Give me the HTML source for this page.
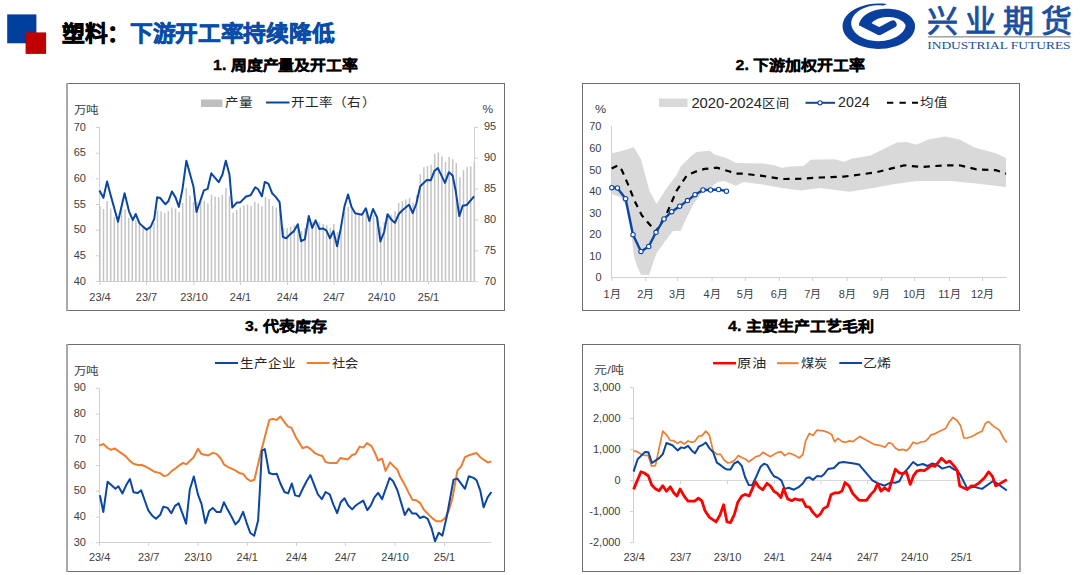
<!DOCTYPE html><html lang="zh-CN"><head><meta charset="utf-8"><title>塑料</title><style>html,body{margin:0;padding:0;background:#fff;width:1080px;height:575px;overflow:hidden}svg{display:block}text{font-family:"Liberation Sans",sans-serif}</style></head><body>
<svg width="1080" height="575" viewBox="0 0 1080 575">
<rect x="7.2" y="14.4" width="29.2" height="28.9" fill="#003F9C"/>
<rect x="25.6" y="32.4" width="20.5" height="21.5" fill="#C00000"/>
<text id="mt" x="61.80" y="40.60" font-size="22" font-weight="bold" fill="#000" text-anchor="start" textLength="272.50" lengthAdjust="spacingAndGlyphs" stroke="#000" stroke-width="0.6">塑料：<tspan fill="#0A4DA8" stroke="#0A4DA8">下游开工率持续降低</tspan></text>
<polygon points="887.0,4.1 882.5,3.6 878.1,3.5 873.6,3.7 869.2,4.3 865.0,5.2 861.0,6.4 857.2,8.0 853.8,9.8 850.7,11.8 848.1,14.1 845.9,16.5 844.3,19.1 843.2,21.9 842.6,24.6 842.6,27.4 843.1,30.2 844.1,32.9 845.7,35.6 847.8,38.0 850.4,40.3 853.4,42.4 856.8,44.2 860.5,45.8 864.5,47.1 868.7,48.0 873.1,48.6 877.5,48.9 882.0,48.8 886.5,48.4 890.8,47.6 894.9,46.5 898.8,45.2 902.4,43.5 905.6,41.5 908.4,39.3 910.8,37.0 912.6,34.4 914.0,31.7 914.8,29.0 915.1,26.2 906.0,23.2 905.8,25.4 905.2,27.6 904.2,29.7 902.8,31.7 901.0,33.5 899.0,35.2 896.6,36.8 893.9,38.1 891.0,39.2 888.0,40.1 884.8,40.7 881.5,41.1 878.1,41.2 874.8,41.0 871.5,40.6 868.3,39.9 865.3,38.9 862.5,37.8 859.9,36.4 857.6,34.8 855.6,33.0 854.0,31.1 852.7,29.1 851.8,26.9 851.3,24.8 851.2,22.6 851.5,20.4 852.3,18.2 853.4,16.2 854.9,14.2 856.7,12.4 858.9,10.7 861.4,9.2 864.1,7.9 867.0,6.9 870.1,6.1 873.4,5.5 876.7,5.2 880.0,5.2 883.4,5.5" fill="#0A3F9E"/>
<polygon points="859.0,26.0 859.1,24.6 859.3,23.3 859.8,22.0 860.4,20.7 861.1,19.4 862.1,18.1 863.1,17.0 864.3,15.8 865.7,14.8 867.2,13.8 868.8,12.8 870.5,12.0 872.4,11.2 874.3,10.6 876.3,10.0 878.3,9.5 880.5,9.2 882.6,8.9 884.8,8.8 887.0,8.7 889.2,8.8 891.4,8.9 893.5,9.2 895.7,9.5 897.7,10.0 899.7,10.6 901.6,11.2 903.5,12.0 905.2,12.8 906.8,13.8 908.3,14.8 909.7,15.8 910.9,17.0 911.9,18.1 912.9,19.4 913.6,20.7 914.2,22.0 914.7,23.3 914.9,24.6 915.0,26.0 906.0,27.5 906.0,26.8 905.8,26.0 905.6,25.3 905.3,24.6 904.9,23.9 904.4,23.2 903.9,22.6 903.3,21.9 902.6,21.3 901.8,20.8 900.9,20.2 900.0,19.7 899.1,19.2 898.1,18.8 897.0,18.4 895.9,18.1 894.7,17.8 893.6,17.5 892.4,17.3 891.1,17.2 889.9,17.1 888.6,17.0 887.4,17.0 886.1,17.1 884.9,17.2 883.6,17.3 882.4,17.5 881.3,17.8 880.1,18.1 879.0,18.4 877.9,18.8 876.9,19.2 876.0,19.7 875.1,20.2 874.2,20.8 873.4,21.3 872.7,21.9 872.1,22.6 871.6,23.2 871.1,23.9 863.5,24.5" fill="#0A3F9E"/>
<polyline points="863.5,23.3 879.3,31.3 892.8,24.2" fill="none" stroke="#0A3F9E" stroke-width="7.6" stroke-linejoin="round" stroke-linecap="round"/>
<text id="lg1" x="927.40" y="31.75" font-size="31" font-weight="normal" fill="#1A4FA0" text-anchor="start" textLength="144.63" lengthAdjust="spacing" style="font-family:'Liberation Serif',serif" stroke="#1A4FA0" stroke-width="0.9">兴业期货</text>
<rect x="928" y="36" width="143" height="1.6" fill="#A6A6A6"/>
<text id="lg2" x="927.20" y="48.80" font-size="11" font-weight="normal" fill="#1A4FA0" text-anchor="start" textLength="143.43" lengthAdjust="spacingAndGlyphs" style="font-family:'Liberation Serif',serif">INDUSTRIAL FUTURES</text>
<text id="t1" x="213.10" y="70.25" font-size="14" font-weight="bold" fill="#000" text-anchor="start" textLength="144.86" lengthAdjust="spacingAndGlyphs" stroke="#000" stroke-width="0.35">1. 周度产量及开工率</text>
<text id="t2" x="735.60" y="70.25" font-size="14" font-weight="bold" fill="#000" text-anchor="start" textLength="129.52" lengthAdjust="spacingAndGlyphs" stroke="#000" stroke-width="0.35">2. 下游加权开工率</text>
<text id="t3" x="245.00" y="331.00" font-size="14" font-weight="bold" fill="#000" text-anchor="start" textLength="81.52" lengthAdjust="spacingAndGlyphs" stroke="#000" stroke-width="0.35">3. 代表库存</text>
<text id="t4" x="728.00" y="330.95" font-size="14" font-weight="bold" fill="#000" text-anchor="start" textLength="146.08" lengthAdjust="spacingAndGlyphs" stroke="#000" stroke-width="0.35">4. 主要生产工艺毛利</text>
<rect x="66" y="83" width="439" height="1" fill="#6E6E6E"/>
<rect x="66" y="310" width="439" height="1" fill="#6E6E6E"/>
<rect x="66" y="83" width="2" height="228" fill="#A8A8A8"/>
<rect x="504" y="83" width="1" height="228" fill="#6E6E6E"/>
<rect x="582" y="83" width="438" height="1" fill="#6E6E6E"/>
<rect x="582" y="310" width="438" height="1" fill="#6E6E6E"/>
<rect x="582" y="83" width="1" height="228" fill="#6E6E6E"/>
<rect x="1019" y="83" width="1" height="228" fill="#6E6E6E"/>
<rect x="66" y="344" width="439" height="1" fill="#6E6E6E"/>
<rect x="66" y="571" width="439" height="1" fill="#6E6E6E"/>
<rect x="66" y="344" width="2" height="228" fill="#A8A8A8"/>
<rect x="504" y="344" width="1" height="228" fill="#6E6E6E"/>
<rect x="582" y="344" width="439" height="1" fill="#6E6E6E"/>
<rect x="582" y="571" width="439" height="1" fill="#6E6E6E"/>
<rect x="582" y="344" width="1" height="228" fill="#6E6E6E"/>
<rect x="1019" y="344" width="2" height="228" fill="#A8A8A8"/>
<text x="86" y="130.5" font-size="11" fill="#404040" text-anchor="end">70</text>
<line x1="96" y1="127.5" x2="99.5" y2="127.5" stroke="#D0D0D0" stroke-width="1"/>
<text x="86" y="156.16666666666666" font-size="11" fill="#404040" text-anchor="end">65</text>
<line x1="96" y1="153.2" x2="99.5" y2="153.2" stroke="#D0D0D0" stroke-width="1"/>
<text x="86" y="181.83333333333334" font-size="11" fill="#404040" text-anchor="end">60</text>
<line x1="96" y1="178.8" x2="99.5" y2="178.8" stroke="#D0D0D0" stroke-width="1"/>
<text x="86" y="207.5" font-size="11" fill="#404040" text-anchor="end">55</text>
<line x1="96" y1="204.5" x2="99.5" y2="204.5" stroke="#D0D0D0" stroke-width="1"/>
<text x="86" y="233.16666666666669" font-size="11" fill="#404040" text-anchor="end">50</text>
<line x1="96" y1="230.2" x2="99.5" y2="230.2" stroke="#D0D0D0" stroke-width="1"/>
<text x="86" y="258.83333333333337" font-size="11" fill="#404040" text-anchor="end">45</text>
<line x1="96" y1="255.8" x2="99.5" y2="255.8" stroke="#D0D0D0" stroke-width="1"/>
<text x="86" y="284.5" font-size="11" fill="#404040" text-anchor="end">40</text>
<line x1="96" y1="281.5" x2="99.5" y2="281.5" stroke="#D0D0D0" stroke-width="1"/>
<text x="484" y="130.3" font-size="11" fill="#404040" text-anchor="start">95</text>
<line x1="474.5" y1="127.3" x2="478" y2="127.3" stroke="#D0D0D0" stroke-width="1"/>
<text x="484" y="161.18" font-size="11" fill="#404040" text-anchor="start">90</text>
<line x1="474.5" y1="158.2" x2="478" y2="158.2" stroke="#D0D0D0" stroke-width="1"/>
<text x="484" y="192.06" font-size="11" fill="#404040" text-anchor="start">85</text>
<line x1="474.5" y1="189.1" x2="478" y2="189.1" stroke="#D0D0D0" stroke-width="1"/>
<text x="484" y="222.94" font-size="11" fill="#404040" text-anchor="start">80</text>
<line x1="474.5" y1="219.9" x2="478" y2="219.9" stroke="#D0D0D0" stroke-width="1"/>
<text x="484" y="253.82" font-size="11" fill="#404040" text-anchor="start">75</text>
<line x1="474.5" y1="250.8" x2="478" y2="250.8" stroke="#D0D0D0" stroke-width="1"/>
<text x="484" y="284.7" font-size="11" fill="#404040" text-anchor="start">70</text>
<line x1="474.5" y1="281.7" x2="478" y2="281.7" stroke="#D0D0D0" stroke-width="1"/>
<line x1="99.5" y1="127" x2="99.5" y2="282" stroke="#D0D0D0" stroke-width="1"/>
<line x1="474.5" y1="127" x2="474.5" y2="282" stroke="#D0D0D0" stroke-width="1"/>
<line x1="99.5" y1="281.5" x2="474.5" y2="281.5" stroke="#D0D0D0" stroke-width="1"/>
<line x1="100" y1="281.5" x2="100" y2="285" stroke="#D0D0D0" stroke-width="1"/>
<text x="100" y="300.5" font-size="11" fill="#404040" text-anchor="middle">23/4</text>
<line x1="146.5" y1="281.5" x2="146.5" y2="285" stroke="#D0D0D0" stroke-width="1"/>
<text x="146.5" y="300.5" font-size="11" fill="#404040" text-anchor="middle">23/7</text>
<line x1="194" y1="281.5" x2="194" y2="285" stroke="#D0D0D0" stroke-width="1"/>
<text x="194" y="300.5" font-size="11" fill="#404040" text-anchor="middle">23/10</text>
<line x1="240.5" y1="281.5" x2="240.5" y2="285" stroke="#D0D0D0" stroke-width="1"/>
<text x="240.5" y="300.5" font-size="11" fill="#404040" text-anchor="middle">24/1</text>
<line x1="287.5" y1="281.5" x2="287.5" y2="285" stroke="#D0D0D0" stroke-width="1"/>
<text x="287.5" y="300.5" font-size="11" fill="#404040" text-anchor="middle">24/4</text>
<line x1="334" y1="281.5" x2="334" y2="285" stroke="#D0D0D0" stroke-width="1"/>
<text x="334" y="300.5" font-size="11" fill="#404040" text-anchor="middle">24/7</text>
<line x1="381.5" y1="281.5" x2="381.5" y2="285" stroke="#D0D0D0" stroke-width="1"/>
<text x="381.5" y="300.5" font-size="11" fill="#404040" text-anchor="middle">24/10</text>
<line x1="428.5" y1="281.5" x2="428.5" y2="285" stroke="#D0D0D0" stroke-width="1"/>
<text x="428.5" y="300.5" font-size="11" fill="#404040" text-anchor="middle">25/1</text>
<path d="M99.90 206.0V281M103.50 209.0V281M107.10 201.0V281M110.70 208.6V281M114.30 217.0V281M117.90 215.7V281M121.50 209.5V281M125.10 209.0V281M128.70 218.0V281M132.30 221.0V281M135.90 220.2V281M139.50 223.9V281M143.10 226.0V281M146.70 228.3V281M150.30 227.6V281M153.90 223.0V281M157.50 210.6V281M161.10 211.6V281M164.70 213.0V281M168.30 211.0V281M171.90 207.6V281M175.50 208.6V281M179.10 212.0V281M182.70 203.0V281M186.30 188.0V281M189.90 195.5V281M193.50 202.2V281M197.10 201.7V281M200.70 201.0V281M204.30 200.8V281M207.90 203.5V281M211.50 194.8V281M215.10 196.4V281M218.70 197.0V281M222.30 194.8V281M225.90 187.9V281M229.50 196.3V281M233.10 212.8V281M236.70 209.8V281M240.30 207.6V281M243.90 205.4V281M247.50 204.6V281M251.10 205.9V281M254.70 201.8V281M258.30 203.3V281M261.90 206.2V281M265.50 197.0V281M269.10 199.0V281M272.70 205.9V281M276.30 207.4V281M279.90 205.0V281M283.50 228.1V281M287.10 228.1V281M290.70 226.4V281M294.30 225.2V281M297.90 223.0V281M301.50 231.1V281M305.10 228.0V281M308.70 219.0V281M312.30 222.0V281M315.90 220.7V281M319.50 222.2V281M323.10 224.0V281M326.70 225.2V281M330.30 228.1V281M333.90 224.0V281M337.50 231.9V281M341.10 226.0V281M344.70 212.0V281M348.30 206.7V281M351.90 209.6V281M355.50 214.0V281M359.10 214.0V281M362.70 214.8V281M366.30 211.9V281M369.90 217.8V281M373.50 214.8V281M377.10 219.3V281M380.70 226.7V281M384.30 221.9V281M387.90 214.8V281M391.50 214.8V281M395.10 211.1V281M398.70 203.0V281M402.30 201.2V281M405.90 199.6V281M409.50 197.7V281M413.10 202.8V281M416.70 195.0V281M420.30 174.3V281M423.90 167.3V281M427.50 165.9V281M431.10 164.4V281M434.70 154.0V281M438.30 152.6V281M441.90 156.6V281M445.50 161.9V281M449.10 157.0V281M452.70 159.2V281M456.30 162.9V281M459.90 177.2V281M463.50 170.3V281M467.10 166.9V281M470.70 166.3V281M474.30 161.9V281" stroke="#C4C4C4" stroke-width="1.5" fill="none"/>
<polyline points="99.4,190.4 103.4,197.8 107.1,181.5 110.6,195.0 118.0,221.7 124.6,193.3 129.0,211.3 132.8,220.2 135.7,214.0 139.4,223.1 142.4,226.1 146.6,229.8 150.6,226.9 154.3,218.7 157.2,197.2 160.2,198.0 165.4,204.3 168.3,201.3 172.0,191.4 175.7,197.8 178.9,206.9 182.4,189.6 186.4,160.7 189.8,173.3 193.5,186.7 196.5,212.0 203.9,190.4 207.6,188.9 211.3,173.3 218.7,182.2 222.4,174.8 225.8,160.7 229.5,174.8 232.3,207.6 237.0,202.4 240.2,202.4 246.1,196.5 250.6,195.2 255.2,187.3 258.1,189.3 261.9,196.2 264.8,181.9 268.5,183.8 272.2,193.3 275.9,197.1 279.6,202.1 282.9,237.0 286.3,238.2 290.0,234.4 293.7,231.4 297.7,224.4 301.1,241.2 304.8,239.3 308.8,216.0 312.2,228.1 315.6,220.4 319.3,228.9 322.9,228.4 326.3,230.4 330.0,238.2 333.4,231.1 337.1,246.2 340.7,228.9 344.5,206.2 348.1,194.4 351.5,207.0 355.2,213.3 361.9,214.8 365.9,208.3 369.3,221.0 373.0,209.0 377.1,217.5 380.4,241.5 384.1,232.0 387.5,214.2 391.5,219.8 394.9,222.8 398.8,214.0 402.4,210.2 409.0,204.7 412.7,213.1 416.4,203.5 420.1,186.5 426.8,179.9 430.9,180.2 434.2,171.3 437.9,168.1 445.0,182.9 448.9,172.2 452.6,175.5 455.6,190.2 459.3,216.1 462.7,205.8 466.7,205.0 474.1,196.4" fill="none" stroke="#0B46A3" stroke-width="2" stroke-linejoin="round"/>
<text id="u1" x="73.50" y="114.00" font-size="11" font-weight="normal" fill="#404040" text-anchor="start" textLength="25.11" lengthAdjust="spacingAndGlyphs">万吨</text>
<text id="u1r" x="482.60" y="113.40" font-size="11.5" font-weight="normal" fill="#404040" text-anchor="start" textLength="10.59" lengthAdjust="spacingAndGlyphs">%</text>
<rect x="201" y="99.5" width="21.5" height="7.5" fill="#BFBFBF"/>
<text id="l1a" x="225.00" y="107.00" font-size="12.5" font-weight="normal" fill="#262626" text-anchor="start" textLength="28.08" lengthAdjust="spacingAndGlyphs">产量</text>
<line x1="266" y1="102.5" x2="289.5" y2="102.5" stroke="#0B46A3" stroke-width="2"/>
<text id="l1b" x="290.90" y="107.00" font-size="12.5" font-weight="normal" fill="#262626" text-anchor="start" textLength="84.80" lengthAdjust="spacingAndGlyphs">开工率（右）</text>
<text x="601.5" y="281.40000000000003" font-size="11" fill="#404040" text-anchor="end">0</text>
<text x="601.5" y="259.83000000000004" font-size="11" fill="#404040" text-anchor="end">10</text>
<text x="601.5" y="238.26000000000005" font-size="11" fill="#404040" text-anchor="end">20</text>
<text x="601.5" y="216.69000000000003" font-size="11" fill="#404040" text-anchor="end">30</text>
<text x="601.5" y="195.12000000000003" font-size="11" fill="#404040" text-anchor="end">40</text>
<text x="601.5" y="173.55000000000004" font-size="11" fill="#404040" text-anchor="end">50</text>
<text x="601.5" y="151.98000000000002" font-size="11" fill="#404040" text-anchor="end">60</text>
<text x="601.5" y="130.41000000000003" font-size="11" fill="#404040" text-anchor="end">70</text>
<line x1="611.5" y1="126" x2="611.5" y2="277.5" stroke="#D0D0D0" stroke-width="1"/>
<line x1="611.5" y1="277.5" x2="1006.5" y2="277.5" stroke="#D0D0D0" stroke-width="1"/>
<line x1="612" y1="277.5" x2="612" y2="281" stroke="#D0D0D0" stroke-width="1"/>
<text x="612" y="298" font-size="11" fill="#404040" text-anchor="middle">1月</text>
<line x1="645.8" y1="277.5" x2="645.8" y2="281" stroke="#D0D0D0" stroke-width="1"/>
<text x="645.8" y="298" font-size="11" fill="#404040" text-anchor="middle">2月</text>
<line x1="677.6" y1="277.5" x2="677.6" y2="281" stroke="#D0D0D0" stroke-width="1"/>
<text x="677.6" y="298" font-size="11" fill="#404040" text-anchor="middle">3月</text>
<line x1="712" y1="277.5" x2="712" y2="281" stroke="#D0D0D0" stroke-width="1"/>
<text x="712" y="298" font-size="11" fill="#404040" text-anchor="middle">4月</text>
<line x1="745.3" y1="277.5" x2="745.3" y2="281" stroke="#D0D0D0" stroke-width="1"/>
<text x="745.3" y="298" font-size="11" fill="#404040" text-anchor="middle">5月</text>
<line x1="779.4" y1="277.5" x2="779.4" y2="281" stroke="#D0D0D0" stroke-width="1"/>
<text x="779.4" y="298" font-size="11" fill="#404040" text-anchor="middle">6月</text>
<line x1="812.7" y1="277.5" x2="812.7" y2="281" stroke="#D0D0D0" stroke-width="1"/>
<text x="812.7" y="298" font-size="11" fill="#404040" text-anchor="middle">7月</text>
<line x1="847.2" y1="277.5" x2="847.2" y2="281" stroke="#D0D0D0" stroke-width="1"/>
<text x="847.2" y="298" font-size="11" fill="#404040" text-anchor="middle">8月</text>
<line x1="881.4" y1="277.5" x2="881.4" y2="281" stroke="#D0D0D0" stroke-width="1"/>
<text x="881.4" y="298" font-size="11" fill="#404040" text-anchor="middle">9月</text>
<line x1="914.6" y1="277.5" x2="914.6" y2="281" stroke="#D0D0D0" stroke-width="1"/>
<text x="914.6" y="298" font-size="11" fill="#404040" text-anchor="middle">10月</text>
<line x1="949.5" y1="277.5" x2="949.5" y2="281" stroke="#D0D0D0" stroke-width="1"/>
<text x="949.5" y="298" font-size="11" fill="#404040" text-anchor="middle">11月</text>
<line x1="982.5" y1="277.5" x2="982.5" y2="281" stroke="#D0D0D0" stroke-width="1"/>
<text x="982.5" y="298" font-size="11" fill="#404040" text-anchor="middle">12月</text>
<polygon points="611.6,153.2 618.0,152.0 633.8,147.2 641.0,159.3 649.4,190.5 656.5,203.9 666.0,189.0 676.5,175.2 680.7,166.5 690.4,156.8 696.4,152.0 709.6,150.8 714.4,154.4 726.5,158.0 736.0,162.9 762.6,163.6 774.6,165.3 781.8,167.7 791.5,166.5 803.5,166.0 810.7,159.7 834.4,159.3 844.0,161.7 851.3,158.8 870.5,155.6 882.6,149.6 897.0,142.4 906.7,141.9 916.3,144.8 928.3,139.5 945.2,136.4 959.6,139.5 974.0,147.2 995.7,153.2 1006.0,158.0 1006.0,187.0 974.0,183.3 950.0,181.0 916.3,181.0 892.0,184.5 873.0,188.0 849.0,191.8 820.0,188.0 801.0,190.5 781.8,188.0 762.6,184.5 743.3,182.0 736.0,185.7 724.0,181.0 718.0,182.0 700.9,194.3 694.0,203.0 687.0,217.0 680.6,230.9 673.0,230.9 665.5,240.8 656.6,253.0 649.0,275.0 641.0,274.8 637.0,266.0 634.0,256.0 631.0,232.0 625.5,205.0 620.0,197.0 611.6,194.0" fill="#D9D9D9"/>
<polyline points="611.6,168.4 618.0,165.3 621.8,170.0 627.8,183.9 634.8,201.3 641.7,215.2 652.2,227.4 655.7,231.7 666.0,215.2 676.5,190.9 687.0,175.2 697.4,170.9 704.8,168.9 716.8,167.7 728.9,171.3 736.0,173.7 743.3,173.7 762.6,175.9 781.8,179.0 801.0,178.7 820.0,177.5 844.0,176.6 875.4,172.5 904.3,165.3 921.0,167.0 945.2,165.3 959.6,165.3 976.5,169.4 995.7,170.1 1006.0,173.7" fill="none" stroke="#000" stroke-width="2.2" stroke-dasharray="6.3,5.5"/>
<polyline points="611.8,187.7 617.4,187.9 625.6,198.7 633.0,234.7 641.0,251.4 648.7,246.5 656.0,232.3 664.0,219.0 671.7,211.7 679.7,206.2 687.5,200.6 695.0,194.7 703.0,190.0 710.6,190.0 718.6,189.5 726.4,191.2" fill="none" stroke="#0B46A3" stroke-width="2.4" stroke-linejoin="round"/>
<circle cx="611.8" cy="187.7" r="2.2" fill="#fff" stroke="#0B46A3" stroke-width="1.1"/>
<circle cx="617.4" cy="187.9" r="2.2" fill="#fff" stroke="#0B46A3" stroke-width="1.1"/>
<circle cx="625.6" cy="198.7" r="2.2" fill="#fff" stroke="#0B46A3" stroke-width="1.1"/>
<circle cx="633" cy="234.7" r="2.2" fill="#fff" stroke="#0B46A3" stroke-width="1.1"/>
<circle cx="641" cy="251.4" r="2.2" fill="#fff" stroke="#0B46A3" stroke-width="1.1"/>
<circle cx="648.7" cy="246.5" r="2.2" fill="#fff" stroke="#0B46A3" stroke-width="1.1"/>
<circle cx="656" cy="232.3" r="2.2" fill="#fff" stroke="#0B46A3" stroke-width="1.1"/>
<circle cx="664" cy="219" r="2.2" fill="#fff" stroke="#0B46A3" stroke-width="1.1"/>
<circle cx="671.7" cy="211.7" r="2.2" fill="#fff" stroke="#0B46A3" stroke-width="1.1"/>
<circle cx="679.7" cy="206.2" r="2.2" fill="#fff" stroke="#0B46A3" stroke-width="1.1"/>
<circle cx="687.5" cy="200.6" r="2.2" fill="#fff" stroke="#0B46A3" stroke-width="1.1"/>
<circle cx="695" cy="194.7" r="2.2" fill="#fff" stroke="#0B46A3" stroke-width="1.1"/>
<circle cx="703" cy="190" r="2.2" fill="#fff" stroke="#0B46A3" stroke-width="1.1"/>
<circle cx="710.6" cy="190" r="2.2" fill="#fff" stroke="#0B46A3" stroke-width="1.1"/>
<circle cx="718.6" cy="189.5" r="2.2" fill="#fff" stroke="#0B46A3" stroke-width="1.1"/>
<circle cx="726.4" cy="191.2" r="2.2" fill="#fff" stroke="#0B46A3" stroke-width="1.1"/>
<text id="u2" x="595.00" y="113.00" font-size="11.5" font-weight="normal" fill="#404040" text-anchor="start" textLength="11.15" lengthAdjust="spacingAndGlyphs">%</text>
<rect x="659" y="98.5" width="28.5" height="8.5" fill="#D9D9D9"/>
<text id="l2a" x="691.40" y="107.50" font-size="14" font-weight="normal" fill="#262626" text-anchor="start" textLength="98.03" lengthAdjust="spacingAndGlyphs">2020-2024<tspan font-size="12.5">区间</tspan></text>
<line x1="805.5" y1="102.8" x2="835" y2="102.8" stroke="#0B46A3" stroke-width="2"/>
<circle cx="820" cy="102.8" r="2.1" fill="#fff" stroke="#0B46A3" stroke-width="1.1"/>
<text id="l2b" x="838.10" y="106.50" font-size="14" font-weight="normal" fill="#262626" text-anchor="start" textLength="31.59" lengthAdjust="spacingAndGlyphs">2024</text>
<line x1="887" y1="102.8" x2="918" y2="102.8" stroke="#000" stroke-width="2" stroke-dasharray="6.3,6.2"/>
<text id="l2c" x="920.00" y="107.40" font-size="12.5" font-weight="normal" fill="#262626" text-anchor="start" textLength="28.08" lengthAdjust="spacingAndGlyphs">均值</text>
<text x="86" y="545.7" font-size="11" fill="#404040" text-anchor="end">30</text>
<line x1="96" y1="542.7" x2="99.5" y2="542.7" stroke="#D0D0D0" stroke-width="1"/>
<text x="86" y="519.97" font-size="11" fill="#404040" text-anchor="end">40</text>
<line x1="96" y1="517.0" x2="99.5" y2="517.0" stroke="#D0D0D0" stroke-width="1"/>
<text x="86" y="494.24000000000007" font-size="11" fill="#404040" text-anchor="end">50</text>
<line x1="96" y1="491.2" x2="99.5" y2="491.2" stroke="#D0D0D0" stroke-width="1"/>
<text x="86" y="468.51000000000005" font-size="11" fill="#404040" text-anchor="end">60</text>
<line x1="96" y1="465.5" x2="99.5" y2="465.5" stroke="#D0D0D0" stroke-width="1"/>
<text x="86" y="442.78000000000003" font-size="11" fill="#404040" text-anchor="end">70</text>
<line x1="96" y1="439.8" x2="99.5" y2="439.8" stroke="#D0D0D0" stroke-width="1"/>
<text x="86" y="417.05000000000007" font-size="11" fill="#404040" text-anchor="end">80</text>
<line x1="96" y1="414.1" x2="99.5" y2="414.1" stroke="#D0D0D0" stroke-width="1"/>
<text x="86" y="391.32000000000005" font-size="11" fill="#404040" text-anchor="end">90</text>
<line x1="96" y1="388.3" x2="99.5" y2="388.3" stroke="#D0D0D0" stroke-width="1"/>
<line x1="99.5" y1="388" x2="99.5" y2="543" stroke="#D0D0D0" stroke-width="1"/>
<line x1="99.5" y1="542.5" x2="491.5" y2="542.5" stroke="#D0D0D0" stroke-width="1"/>
<line x1="99.6" y1="542.5" x2="99.6" y2="546" stroke="#D0D0D0" stroke-width="1"/>
<text x="99.6" y="561" font-size="11" fill="#404040" text-anchor="middle">23/4</text>
<line x1="148.7" y1="542.5" x2="148.7" y2="546" stroke="#D0D0D0" stroke-width="1"/>
<text x="148.7" y="561" font-size="11" fill="#404040" text-anchor="middle">23/7</text>
<line x1="198" y1="542.5" x2="198" y2="546" stroke="#D0D0D0" stroke-width="1"/>
<text x="198" y="561" font-size="11" fill="#404040" text-anchor="middle">23/10</text>
<line x1="247.3" y1="542.5" x2="247.3" y2="546" stroke="#D0D0D0" stroke-width="1"/>
<text x="247.3" y="561" font-size="11" fill="#404040" text-anchor="middle">24/1</text>
<line x1="296.5" y1="542.5" x2="296.5" y2="546" stroke="#D0D0D0" stroke-width="1"/>
<text x="296.5" y="561" font-size="11" fill="#404040" text-anchor="middle">24/4</text>
<line x1="345.4" y1="542.5" x2="345.4" y2="546" stroke="#D0D0D0" stroke-width="1"/>
<text x="345.4" y="561" font-size="11" fill="#404040" text-anchor="middle">24/7</text>
<line x1="395.1" y1="542.5" x2="395.1" y2="546" stroke="#D0D0D0" stroke-width="1"/>
<text x="395.1" y="561" font-size="11" fill="#404040" text-anchor="middle">24/10</text>
<line x1="444.5" y1="542.5" x2="444.5" y2="546" stroke="#D0D0D0" stroke-width="1"/>
<text x="444.5" y="561" font-size="11" fill="#404040" text-anchor="middle">25/1</text>
<polyline points="99.4,445.7 103.4,444.0 107.6,448.0 111.0,449.9 114.7,448.4 118.7,451.4 122.4,453.9 126.1,456.6 129.8,460.9 133.5,463.8 138.0,465.0 141.7,465.0 146.1,466.8 150.6,469.4 154.3,471.7 160.2,473.1 163.9,476.1 167.6,475.1 172.0,470.9 175.7,468.3 179.4,465.3 183.1,462.8 186.4,464.3 189.8,460.9 193.5,457.6 198.0,448.7 201.4,453.9 208.3,455.4 212.8,452.9 216.5,453.9 220.6,458.3 224.2,464.7 228.3,467.2 235.0,470.2 239.4,473.1 243.1,473.9 246.9,478.6 250.6,481.0 254.4,479.8 261.1,451.3 269.3,419.9 273.0,419.0 276.7,419.9 280.4,416.5 284.1,421.7 287.8,426.4 291.5,427.9 295.9,437.2 302.6,448.3 307.0,446.6 310.7,449.1 314.4,452.8 318.1,454.6 322.3,456.0 325.6,462.0 330.0,463.1 336.7,463.1 340.4,458.0 347.8,459.4 352.2,455.0 355.5,454.0 359.6,446.6 363.3,447.6 367.0,443.1 371.5,446.1 375.2,453.5 378.1,460.5 382.1,458.7 385.6,470.9 390.0,462.4 394.4,466.9 397.4,469.8 400.0,476.3 404.8,484.9 408.6,492.6 412.4,499.7 416.3,500.2 420.1,503.1 423.9,509.8 427.7,513.6 432.5,518.4 436.3,521.3 441.1,521.3 444.9,518.4 448.8,510.7 452.6,497.4 457.4,470.6 461.2,466.4 465.0,457.2 468.8,455.3 476.5,453.0 480.3,457.2 485.1,460.7 488.0,462.6 491.4,461.4" fill="none" stroke="#ED7D31" stroke-width="2" stroke-linejoin="round"/>
<polyline points="99.9,495.2 103.3,512.0 107.6,481.7 111.3,485.1 115.4,488.8 118.4,486.3 122.4,493.5 126.1,485.3 129.9,479.0 133.5,492.2 137.7,493.0 141.2,490.4 144.6,500.0 148.3,510.4 152.8,516.3 156.0,518.8 160.2,514.8 163.4,506.7 167.6,507.9 171.3,513.3 175.0,505.9 178.7,503.4 182.4,513.3 186.1,523.7 189.8,489.5 193.8,476.5 198.0,494.7 201.5,503.9 205.4,523.3 209.1,511.1 212.8,507.9 216.5,511.9 220.6,511.9 223.9,502.3 227.6,509.6 231.3,516.3 235.4,524.4 239.0,520.7 243.1,511.9 246.9,523.7 250.3,533.0 254.2,535.8 258.1,520.6 259.6,494.6 261.9,450.6 264.8,449.1 269.1,473.0 273.0,474.2 276.7,473.7 280.4,483.5 284.4,492.0 288.2,493.4 291.8,483.5 295.2,495.4 299.2,496.4 302.6,489.0 306.6,481.3 310.4,475.1 314.0,484.3 317.9,494.3 321.9,499.1 325.6,492.0 329.7,494.3 333.3,504.3 337.1,513.1 340.7,502.3 344.5,498.3 348.1,505.3 352.2,509.4 355.5,505.7 359.6,502.8 363.3,500.6 367.3,510.2 370.7,505.7 374.4,497.3 378.1,492.9 382.1,499.1 389.6,478.0 393.0,481.0 397.4,490.2 400.4,500.2 404.8,515.0 408.6,508.5 412.4,513.6 416.3,513.6 420.1,518.0 423.9,516.5 427.7,518.8 431.5,528.0 435.0,541.3 438.8,532.7 442.4,535.6 446.8,516.5 453.5,479.8 457.4,478.6 465.0,488.8 468.8,476.3 473.6,477.9 476.5,480.2 480.3,490.7 483.6,507.3 487.6,497.4 491.4,492.0" fill="none" stroke="#0B46A3" stroke-width="2" stroke-linejoin="round"/>
<text id="u3" x="73.50" y="375.00" font-size="11" font-weight="normal" fill="#404040" text-anchor="start" textLength="25.11" lengthAdjust="spacingAndGlyphs">万吨</text>
<line x1="215" y1="363" x2="238" y2="363" stroke="#0B46A3" stroke-width="2"/>
<text id="l3a" x="240.00" y="368.10" font-size="12.5" font-weight="normal" fill="#262626" text-anchor="start" textLength="56.08" lengthAdjust="spacingAndGlyphs">生产企业</text>
<line x1="306.7" y1="363" x2="329.6" y2="363" stroke="#ED7D31" stroke-width="2"/>
<text id="l3b" x="331.50" y="368.10" font-size="12.5" font-weight="normal" fill="#262626" text-anchor="start" textLength="27.49" lengthAdjust="spacingAndGlyphs">社会</text>
<text x="620.5" y="390.6" font-size="11" fill="#404040" text-anchor="end">3,000</text>
<line x1="630" y1="387.6" x2="633.5" y2="387.6" stroke="#D0D0D0" stroke-width="1"/>
<text x="620.5" y="421.6" font-size="11" fill="#404040" text-anchor="end">2,000</text>
<line x1="630" y1="418.6" x2="633.5" y2="418.6" stroke="#D0D0D0" stroke-width="1"/>
<text x="620.5" y="452.6" font-size="11" fill="#404040" text-anchor="end">1,000</text>
<line x1="630" y1="449.6" x2="633.5" y2="449.6" stroke="#D0D0D0" stroke-width="1"/>
<text x="620.5" y="483.6" font-size="11" fill="#404040" text-anchor="end">0</text>
<line x1="630" y1="480.6" x2="633.5" y2="480.6" stroke="#D0D0D0" stroke-width="1"/>
<text x="620.5" y="514.6" font-size="11" fill="#404040" text-anchor="end">-1,000</text>
<line x1="630" y1="511.6" x2="633.5" y2="511.6" stroke="#D0D0D0" stroke-width="1"/>
<text x="620.5" y="545.6" font-size="11" fill="#404040" text-anchor="end">-2,000</text>
<line x1="630" y1="542.6" x2="633.5" y2="542.6" stroke="#D0D0D0" stroke-width="1"/>
<line x1="633.5" y1="387.5" x2="633.5" y2="543" stroke="#D0D0D0" stroke-width="1"/>
<line x1="633.5" y1="480.5" x2="1007" y2="480.5" stroke="#D9D9D9" stroke-width="1"/>
<line x1="634.1" y1="480.5" x2="634.1" y2="484" stroke="#D0D0D0" stroke-width="1"/>
<text x="634.1" y="561" font-size="11" fill="#404040" text-anchor="middle">23/4</text>
<line x1="680.6" y1="480.5" x2="680.6" y2="484" stroke="#D0D0D0" stroke-width="1"/>
<text x="680.6" y="561" font-size="11" fill="#404040" text-anchor="middle">23/7</text>
<line x1="727.6" y1="480.5" x2="727.6" y2="484" stroke="#D0D0D0" stroke-width="1"/>
<text x="727.6" y="561" font-size="11" fill="#404040" text-anchor="middle">23/10</text>
<line x1="774.4" y1="480.5" x2="774.4" y2="484" stroke="#D0D0D0" stroke-width="1"/>
<text x="774.4" y="561" font-size="11" fill="#404040" text-anchor="middle">24/1</text>
<line x1="821.1" y1="480.5" x2="821.1" y2="484" stroke="#D0D0D0" stroke-width="1"/>
<text x="821.1" y="561" font-size="11" fill="#404040" text-anchor="middle">24/4</text>
<line x1="867.6" y1="480.5" x2="867.6" y2="484" stroke="#D0D0D0" stroke-width="1"/>
<text x="867.6" y="561" font-size="11" fill="#404040" text-anchor="middle">24/7</text>
<line x1="914.7" y1="480.5" x2="914.7" y2="484" stroke="#D0D0D0" stroke-width="1"/>
<text x="914.7" y="561" font-size="11" fill="#404040" text-anchor="middle">24/10</text>
<line x1="961.4" y1="480.5" x2="961.4" y2="484" stroke="#D0D0D0" stroke-width="1"/>
<text x="961.4" y="561" font-size="11" fill="#404040" text-anchor="middle">25/1</text>
<polyline points="633.6,450.8 637.6,451.9 641.3,454.4 644.3,455.3 648.0,455.3 651.7,466.2 655.4,465.6 659.1,448.1 662.8,431.1 666.5,434.8 670.2,440.4 673.6,440.7 677.6,443.4 680.6,441.5 684.3,444.0 688.0,441.0 691.7,442.2 694.7,441.5 698.8,436.0 702.1,435.6 705.8,431.1 709.2,434.8 713.2,451.1 716.9,454.4 720.6,454.4 724.3,460.3 728.0,463.0 731.7,462.2 734.7,460.0 738.4,455.6 742.1,457.8 745.8,459.3 748.7,461.8 752.4,459.3 755.7,456.7 759.6,455.6 763.1,452.3 767.0,454.8 770.5,456.7 773.9,454.4 777.9,452.3 781.3,451.9 784.7,455.6 788.7,453.1 792.4,454.2 796.1,456.1 799.1,458.0 802.8,454.6 805.7,440.6 809.4,433.4 813.1,435.4 816.9,430.2 823.5,430.9 828.0,432.4 831.7,434.6 834.6,441.7 838.0,438.3 842.0,441.7 845.7,442.3 849.4,440.9 852.9,441.7 859.8,436.4 866.5,440.3 873.9,444.3 879.8,445.3 885.0,447.2 888.7,442.8 891.7,443.5 895.4,448.0 899.1,450.2 902.8,449.4 906.5,450.6 909.4,448.0 913.1,442.3 916.9,443.8 921.3,442.0 925.0,441.3 928.0,438.8 930.9,434.9 934.6,433.9 939.1,431.4 945.7,428.4 949.0,422.3 952.8,417.4 956.8,420.2 960.5,425.6 963.9,438.0 967.2,438.0 971.3,436.7 975.4,434.4 979.5,432.2 982.0,431.4 985.3,423.5 988.6,421.5 992.7,425.6 999.4,430.1 1003.5,438.0 1006.8,442.6" fill="none" stroke="#ED7D31" stroke-width="1.7" stroke-linejoin="round"/>
<polyline points="633.6,471.6 637.6,459.3 641.3,455.6 645.0,451.9 648.4,452.3 652.0,463.0 655.4,460.7 659.1,458.2 662.8,454.1 666.5,443.0 672.4,445.2 677.6,450.4 681.3,447.4 684.3,448.1 688.0,445.9 691.7,450.4 695.0,453.3 698.8,446.7 702.1,445.2 705.8,442.5 709.5,448.4 713.2,452.3 716.9,462.7 720.6,465.2 724.3,468.1 727.3,469.6 730.5,469.6 733.9,463.7 737.9,461.5 741.8,465.9 745.0,477.0 748.7,484.9 752.1,485.2 756.1,477.0 760.6,466.7 764.0,463.7 767.3,465.2 770.5,471.1 773.9,476.3 777.6,477.8 781.3,480.4 784.7,488.9 788.7,487.7 793.9,489.7 799.1,486.8 802.8,483.5 806.5,477.9 809.4,477.3 813.1,479.8 816.9,476.1 821.3,476.4 824.3,473.9 828.0,469.0 833.9,468.0 839.1,462.8 843.5,462.0 848.7,462.8 853.9,463.5 859.1,464.6 865.7,472.4 872.4,480.3 878.3,483.5 884.6,485.7 890.9,482.3 895.4,482.8 899.4,481.3 903.5,473.1 908.0,468.4 913.1,462.0 917.6,465.4 922.8,464.0 927.5,466.0 932.4,463.5 936.9,464.6 942.4,468.6 949.5,466.4 953.9,469.4 957.2,470.7 960.5,475.2 967.2,488.4 973.8,486.7 982.0,488.9 992.7,481.3 996.0,482.6 1006.8,490.5" fill="none" stroke="#0B46A3" stroke-width="2" stroke-linejoin="round"/>
<polyline points="633.6,489.4 641.0,471.8 644.3,473.0 648.4,476.0 651.7,485.0 655.4,488.7 659.1,490.7 662.8,485.7 666.5,491.2 670.2,486.8 673.9,493.0 676.9,496.1 680.1,489.0 684.3,496.4 688.0,501.1 694.7,501.1 698.4,498.1 701.8,500.8 705.0,510.7 709.2,517.1 716.1,521.9 719.9,515.2 723.6,504.8 727.0,521.9 730.5,522.6 734.4,514.4 737.9,501.9 741.8,495.9 745.0,494.4 749.2,495.9 755.4,481.7 759.1,487.2 762.8,489.8 767.0,483.3 770.5,486.0 773.9,491.3 777.3,493.4 780.9,497.6 783.6,488.7 787.7,498.9 791.7,500.7 795.1,498.8 799.1,500.0 802.5,499.7 806.0,506.7 809.4,507.1 813.1,512.6 816.9,516.6 820.3,514.1 823.5,508.6 827.7,506.2 830.9,494.8 834.6,492.9 838.3,492.9 842.0,491.1 845.0,482.5 849.0,485.9 852.9,493.8 859.1,500.3 866.5,500.3 870.9,494.4 874.6,490.4 877.6,483.7 881.0,491.1 884.6,487.9 888.7,490.8 892.0,480.0 895.4,469.2 899.4,473.0 902.8,473.6 906.5,472.1 910.2,484.4 913.6,475.6 916.9,471.1 920.6,470.1 924.3,470.7 928.0,468.1 931.7,465.2 935.0,466.4 941.6,458.2 946.2,462.8 949.8,461.1 954.8,466.9 957.2,470.2 959.7,485.9 967.2,489.5 971.3,485.9 974.6,485.9 979.5,482.6 984.5,477.7 988.6,471.9 992.4,476.3 995.7,485.9 999.4,483.9 1006.8,479.6" fill="none" stroke="#FF0000" stroke-width="2.8" stroke-linejoin="round"/>
<text id="u4" x="594.40" y="374.20" font-size="11" font-weight="normal" fill="#404040" text-anchor="start" textLength="29.50" lengthAdjust="spacingAndGlyphs">元/吨</text>
<line x1="713" y1="363.2" x2="736" y2="363.2" stroke="#FF0000" stroke-width="2.5"/>
<text id="l4a" x="737.00" y="368.10" font-size="12.5" font-weight="normal" fill="#262626" text-anchor="start" textLength="29.83" lengthAdjust="spacingAndGlyphs">原油</text>
<line x1="777" y1="363.2" x2="798.5" y2="363.2" stroke="#ED7D31" stroke-width="2"/>
<text id="l4b" x="800.70" y="368.10" font-size="12.5" font-weight="normal" fill="#262626" text-anchor="start" textLength="27.48" lengthAdjust="spacingAndGlyphs">煤炭</text>
<line x1="839.3" y1="363" x2="862" y2="363" stroke="#0B46A3" stroke-width="2"/>
<text id="l4c" x="862.90" y="368.10" font-size="12.5" font-weight="normal" fill="#262626" text-anchor="start" textLength="29.13" lengthAdjust="spacingAndGlyphs">乙烯</text>
</svg></body></html>
